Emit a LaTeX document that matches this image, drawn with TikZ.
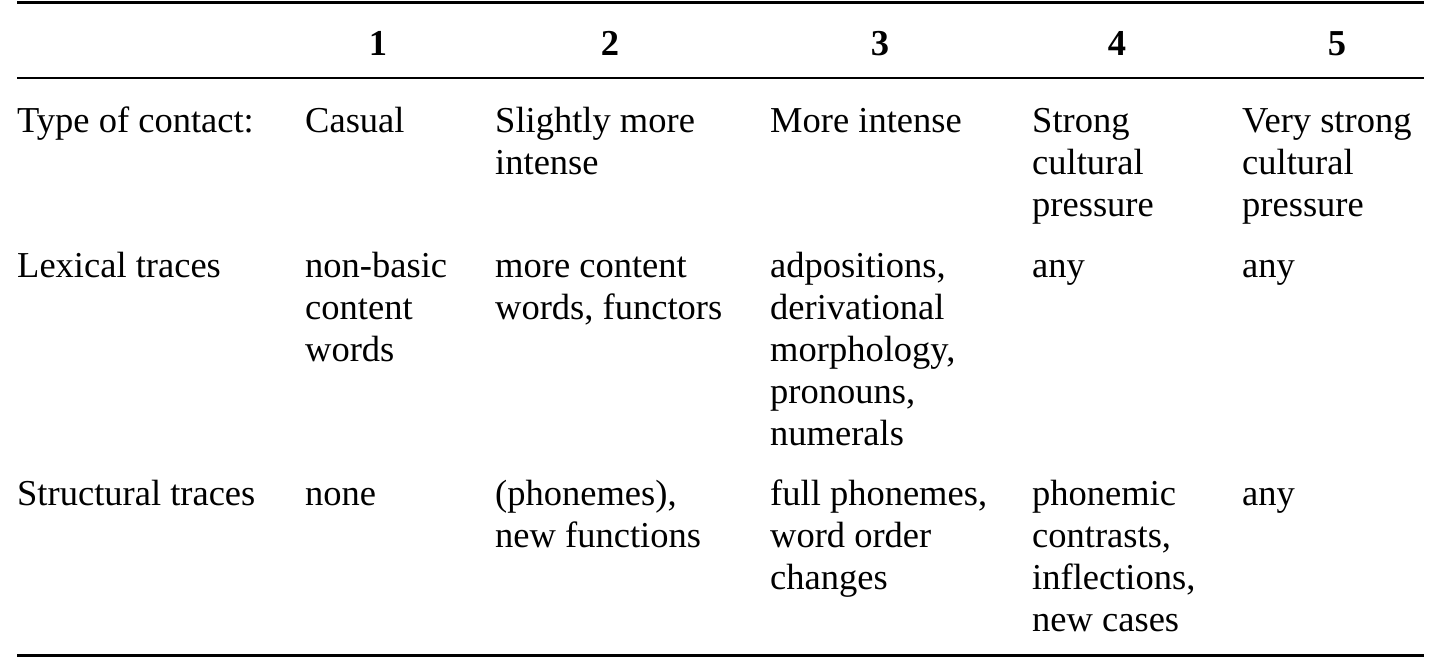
\documentclass[tikz,border=0pt]{standalone}
\usepackage{fontspec}
\setmainfont{Liberation Serif}
\begin{document}
\begin{tikzpicture}[x=1pt,y=-1pt,
  cell/.style={anchor=base west,inner sep=0pt,font=\fontsize{36.5}{42}\selectfont},
  head/.style={anchor=base,inner sep=0pt,font=\fontsize{36.5}{42}\selectfont\bfseries}]
\useasboundingbox (0,0) rectangle (1440,660);
\draw[line width=3] (17,3) -- (1424,3);
\draw[line width=1.5] (17,78) -- (1424,78);
\draw[line width=3] (17,655) -- (1424,655);
\node[head] (h1) at (378,56) {1};
\node[head] (h2) at (610,56) {2};
\node[head] (h3) at (880,56) {3};
\node[head] (h4) at (1117,56) {4};
\node[head] (h5) at (1337,56) {5};
% row 1
\node[cell] (a0) at (17,133) {Type of contact:};
\node[cell] (a1) at (305,133) {Casual};
\node[cell] (a2) at (495,133) {\vtop{\hbox{Slightly more}\hbox{intense}}};
\node[cell] (a3) at (770,133) {More intense};
\node[cell] (a4) at (1032,133) {\vtop{\hbox{Strong}\hbox{cultural}\hbox{pressure}}};
\node[cell] (a5) at (1242,133) {\vtop{\hbox{Very strong}\hbox{cultural}\hbox{pressure}}};
% row 2
\node[cell] (b0) at (17,278) {Lexical traces};
\node[cell] (b1) at (305,278) {\vtop{\hbox{non-basic}\hbox{content}\hbox{words}}};
\node[cell] (b2) at (495,278) {\vtop{\hbox{more content}\hbox{words, functors}}};
\node[cell] (b3) at (770,278) {\vtop{\hbox{adpositions,}\hbox{derivational}\hbox{morphology,}\hbox{pronouns,}\hbox{numerals}}};
\node[cell] (b4) at (1032,278) {any};
\node[cell] (b5) at (1242,278) {any};
% row 3
\node[cell] (c0) at (17,505) {Structural traces};
\node[cell] (c1) at (305,505) {none};
\node[cell] (c2) at (495,505) {\vtop{\hbox{(phonemes),}\hbox{new functions}}};
\node[cell] (c3) at (770,505) {\vtop{\hbox{full phonemes,}\hbox{word order}\hbox{changes}}};
\node[cell] (c4) at (1032,505) {\vtop{\hbox{phonemic}\hbox{contrasts,}\hbox{inflections,}\hbox{new cases}}};
\node[cell] (c5) at (1242,505) {any};
\end{tikzpicture}
\end{document}
